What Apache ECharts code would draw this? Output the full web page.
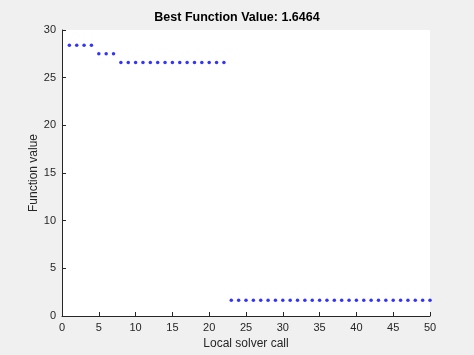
<!DOCTYPE html>
<html>
<head>
<meta charset="utf-8">
<script src="https://cdn.jsdelivr.net/npm/echarts@6/dist/echarts.min.js"></script>
<style>html,body{margin:0;padding:0;background:#f0f0f0;}#c{width:474px;height:355px;}</style>
</head>
<body>
<div id="c"></div>
<script>
const solverCalls = [1,2,3,4,5,6,7,8,9,10,11,12,13,14,15,16,17,18,19,20,21,22,23,24,25,26,27,28,29,30,31,32,33,34,35,36,37,38,39,40,41,42,43,44,45,46,47,48,49,50];
const functionValues = [28.4,28.4,28.4,28.4,27.5,27.5,27.5,26.6,26.6,26.6,26.6,26.6,26.6,26.6,26.6,26.6,26.6,26.6,26.6,26.6,26.6,26.6,1.6464,1.6464,1.6464,1.6464,1.6464,1.6464,1.6464,1.6464,1.6464,1.6464,1.6464,1.6464,1.6464,1.6464,1.6464,1.6464,1.6464,1.6464,1.6464,1.6464,1.6464,1.6464,1.6464,1.6464,1.6464,1.6464,1.6464,1.6464];
const titleText = 'Best Function Value: 1.6464';
const xLabel = 'Local solver call';
const yLabel = 'Function value';

const chart = echarts.init(document.getElementById('c'), null, {renderer:'canvas'});
const font = 'Liberation Sans, Arial, Helvetica, sans-serif';
const axisCol = '#262626';
chart.setOption({
  backgroundColor: '#f0f0f0',
  animation: false,
  title: {text: titleText, left: 'center', top: 6, textStyle: {fontFamily: font, fontSize: 12.5, fontWeight: 'bold', color: '#000'}},
  grid: {left: 62, right: 44, top: 30, bottom: 38, show: true, backgroundColor: '#ffffff', borderWidth: 0},
  xAxis: {
    type: 'value', min: 0, max: 50, interval: 5,
    name: xLabel, nameLocation: 'middle', nameGap: 22, nameMoveOverlap: false,
    nameTextStyle: {fontFamily: font, fontSize: 12, color: axisCol},
    axisLine: {show: true, lineStyle: {color: axisCol, width: 1}},
    axisTick: {show: true, inside: true, length: 4, lineStyle: {color: axisCol}},
    axisLabel: {fontFamily: font, fontSize: 11, color: axisCol, margin: 6},
    splitLine: {show: false}
  },
  yAxis: {
    type: 'value', min: 0, max: 30, interval: 5,
    name: yLabel, nameLocation: 'middle', nameGap: 22, nameMoveOverlap: false,
    nameTextStyle: {fontFamily: font, fontSize: 12, color: axisCol},
    axisLine: {show: true, lineStyle: {color: axisCol, width: 1}},
    axisTick: {show: true, inside: true, length: 4, lineStyle: {color: axisCol}},
    axisLabel: {fontFamily: font, fontSize: 11, color: axisCol, margin: 6},
    splitLine: {show: false}
  },
  series: [{
    type: 'scatter',
    data: solverCalls.map((x, i) => [x, functionValues[i]]),
    symbol: 'circle', symbolSize: 3.5,
    itemStyle: {color: '#0000ff'}
  }]
});
</script>
</body>
</html>
